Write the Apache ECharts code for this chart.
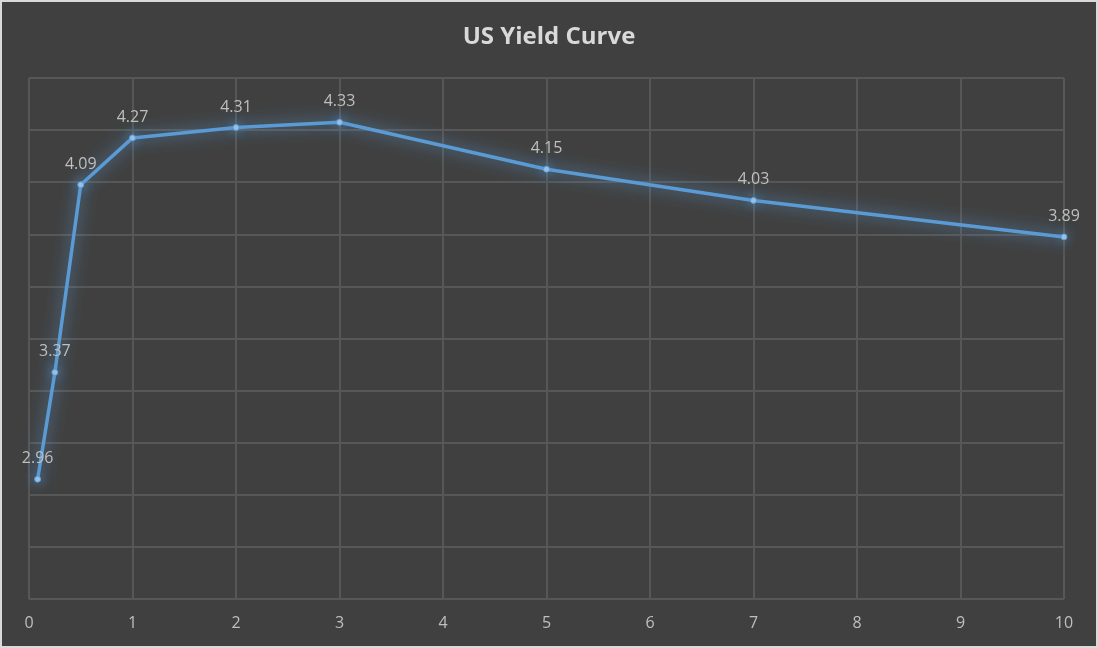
<!DOCTYPE html>
<html>
<head>
<meta charset="utf-8">
<script src="https://cdn.jsdelivr.net/npm/echarts@6/dist/echarts.min.js"></script>
<style>
html,body{margin:0;padding:0;background:#404040;}
#wrap{position:absolute;left:0;top:0;width:1094px;height:644px;border:2px solid #d9d9d9;background:#404040;}
#chart{width:1094px;height:644px;}
</style>
</head>
<body>
<div id="wrap"><div id="chart"></div></div>
<script>
const title = 'US Yield Curve';
const maturities = [1/12, 0.25, 0.5, 1, 2, 3, 5, 7, 10];
const yields = [2.96, 3.37, 4.09, 4.27, 4.31, 4.33, 4.15, 4.03, 3.89];
const xTicks = [0, 1, 2, 3, 4, 5, 6, 7, 8, 9, 10];

const chart = echarts.init(document.getElementById('chart'));
const textColor = '#bfbfbf';
chart.setOption({
  backgroundColor: '#404040',
  animation: false,
  title: {
    text: title, left: 'center', top: 18,
    textStyle: {color: '#d9d9d9', fontSize: 24, fontWeight: 'bold', fontFamily: 'Open Sans'}
  },
  grid: {left: 27, right: 32, top: 76, bottom: 47},
  xAxis: {
    type: 'value', min: xTicks[0], max: xTicks[xTicks.length-1], interval: 1,
    axisLine: {show: false}, axisTick: {show: false},
    axisLabel: {color: textColor, fontSize: 16, margin: 16, fontFamily: 'Open Sans'},
    splitLine: {show: true, lineStyle: {color: '#575757', width: 2}}
  },
  yAxis: [
    {type: 'value', min: 2.5, max: 4.5, show: false, splitLine: {show: false}},
    {type: 'value', min: 0, max: 10, interval: 1, axisLine: {show: false}, axisTick: {show: false},
     axisLabel: {show: false}, splitLine: {show: true, lineStyle: {color: '#575757', width: 2}}}
  ],
  series: [
    {type: 'line', yAxisIndex: 1, data: [], silent: true},
    {
      type: 'line', yAxisIndex: 0,
      data: maturities.map((m, i) => [m, yields[i]]),
      symbol: 'circle', symbolSize: 6,
      itemStyle: {color: '#9dc3e6', borderColor: '#5b9bd5', borderWidth: 1, shadowColor: 'rgba(91,155,213,0.9)', shadowBlur: 12},
      lineStyle: {color: '#5b9bd5', width: 3.5, shadowColor: 'rgba(91,155,213,1)', shadowBlur: 16},
      label: {show: true, position: 'top', distance: 9, color: textColor, fontSize: 16, fontFamily: 'Open Sans'}
    }
  ]
});
</script>
</body>
</html>
